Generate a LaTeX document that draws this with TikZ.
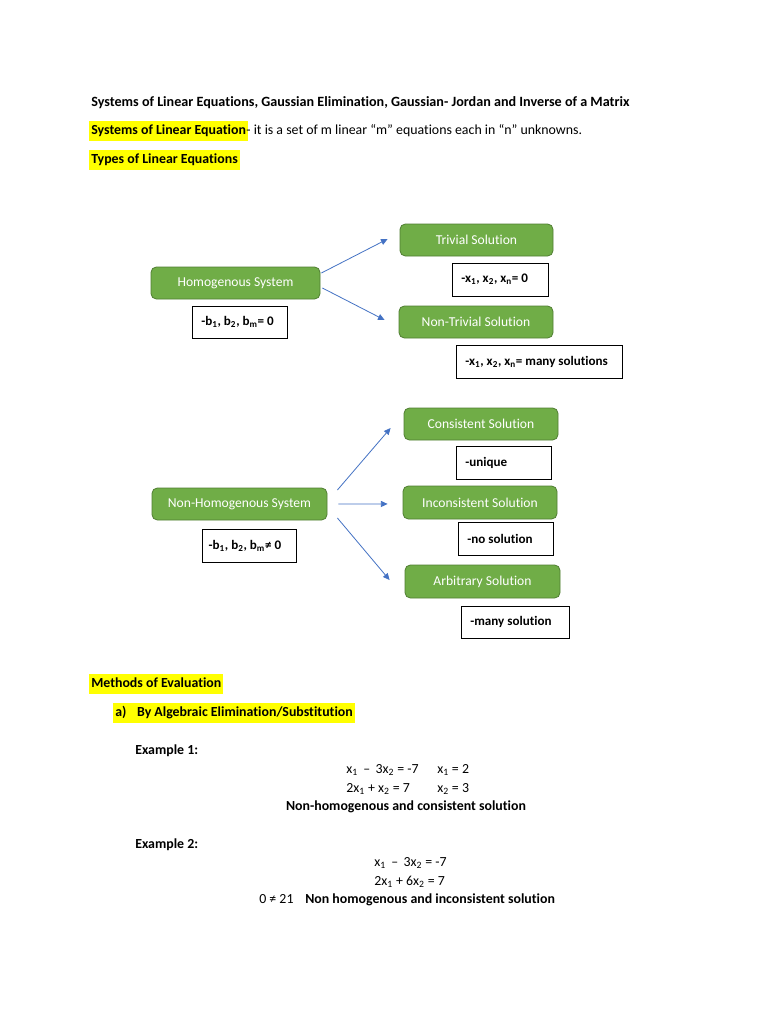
\documentclass[tikz,border=0pt]{standalone}
\usepackage{fontspec}
\setmainfont[Ligatures={NoCommon,NoContextual}]{Carlito}
\usetikzlibrary{arrows.meta}
\definecolor{gfill}{HTML}{70AD47}
\definecolor{gline}{HTML}{507E32}
\definecolor{ablue}{HTML}{4472C4}
\definecolor{hl}{HTML}{FFFF00}
\newcommand\sbs[1]{\textsubscript{#1}}
\newcommand\lbox[2]{\makebox[#1][l]{#2}}
\begin{document}
\begin{tikzpicture}[x=0.75pt,y=-0.75pt,
 txt/.style={inner sep=0pt, font=\fontsize{10.4}{12}\selectfont},
 btxt/.style={inner sep=0pt, font=\fontsize{10.4}{12}\selectfont\bfseries},
 hlt/.style={fill=hl, inner xsep=1.5pt, inner ysep=2.5pt, text height=7.3pt, text depth=2.5pt, font=\fontsize{10.4}{12}\selectfont\bfseries},
 gbox/.style={draw=gline, fill=gfill, rounded corners=4pt, line width=0.6pt, text=white, font=\fontsize{10.2}{12}\selectfont, inner sep=0pt},
 wbox/.style={draw=black, line width=0.6pt, fill=white, inner xsep=7pt, inner ysep=0pt, font=\fontsize{9.8}{11}\selectfont\bfseries},
 arr/.style={draw=ablue, line width=0.6pt, -{Triangle[length=5pt,width=4.5pt]}}
]
\useasboundingbox[fill=white] (0,0) rectangle (768,1024);

% header
\node[btxt, font=\fontsize{10.6}{12}\selectfont\bfseries, anchor=base west] (title) at (91,107) {Systems of Linear Equations, Gaussian Elimination, Gaussian- Jordan and Inverse of a Matrix};
\node[hlt, anchor=base west] (h1) at (89,134.5) {Systems of Linear Equation};
\node[txt, anchor=base west] (l2) at ([xshift=-1.5pt]h1.base east) {- it is a set of m linear “m” equations each in “n” unknowns.};
\node[hlt, anchor=base west] (h2) at (89,163) {Types of Linear Equations};

% homogenous
\node[gbox, minimum width=114.75pt, minimum height=24pt] (triv) at (476.5,240) {Trivial Solution};
\node[gbox, minimum width=126.75pt, minimum height=24pt] (homo) at (235.5,283) {Homogenous System};
\node[gbox, minimum width=115.5pt, minimum height=24pt] (ntriv) at (476,322) {Non-Trivial Solution};
\node[wbox, minimum height=24.75pt] (x1) at (500,279.5) {\lbox{58pt}{-x\sbs{1}, x\sbs{2}, x\sbs{n}= 0}};
\node[wbox, minimum height=24pt] (b1) at (239.5,322) {\lbox{57.25pt}{-b\sbs{1}, b\sbs{2}, b\sbs{m}= 0}};
\node[wbox, minimum height=24.75pt] (x2) at (539,361.5) {\lbox{110.5pt}{-x\sbs{1}, x\sbs{2}, x\sbs{n}= many solutions}};

\draw[arr] ([xshift=0.75pt,yshift=7.5pt]homo.east) -- ([xshift=-9pt,yshift=0.75pt]triv.west);
\draw[arr] ([xshift=1.5pt,yshift=-3.75pt]homo.east) -- ([xshift=-10.5pt,yshift=1.5pt]ntriv.west);

% non-homogenous
\node[gbox, minimum width=115.5pt, minimum height=24pt] (cons) at (481,424) {Consistent Solution};
\node[gbox, minimum width=131.25pt, minimum height=24pt] (nhomo) at (239.5,504) {Non-Homogenous System};
\node[gbox, minimum width=115.5pt, minimum height=24.75pt] (incons) at (480,502.5) {Inconsistent Solution};
\node[gbox, minimum width=116.25pt, minimum height=24.75pt] (arb) at (482.5,581.5) {Arbitrary Solution};
\node[wbox, minimum height=24.75pt] (uniq) at (503.5,462.5) {\lbox{57.25pt}{-unique}};
\node[wbox, minimum height=24.75pt] (nosol) at (505.5,538.5) {\lbox{57.25pt}{-no solution}};
\node[wbox, inner xsep=5pt, minimum height=24.75pt] (b2) at (249,545.5) {\lbox{60.5pt}{-b\sbs{1}, b\sbs{2}, b\sbs{m}≠ 0}};
\node[wbox, minimum height=24pt] (many) at (515,622) {\lbox{67pt}{-many solution}};

\draw[arr] ([xshift=7.5pt,yshift=10.5pt]nhomo.east) -- ([xshift=-9.75pt,yshift=-3pt]cons.west);
\draw[arr] ([xshift=8.25pt]nhomo.east) -- ([xshift=-11.25pt,yshift=-1.1pt]incons.west);
\draw[arr] ([xshift=7.5pt,yshift=-10.5pt]nhomo.east) -- ([xshift=-11.25pt,yshift=1.1pt]arb.west);

% methods
\node[hlt, anchor=base west] (h3) at (89,687) {Methods of Evaluation};
\node[hlt, anchor=base west] (h4) at (113,716) {a)\hspace{8pt}By Algebraic Elimination/Substitution};

\node[btxt, anchor=base west] (ex1) at (135,754) {Example 1:};
\node[txt, anchor=base west] (e11) at (346,773) {x\sbs{1} \,–\, 3x\sbs{2} = -7};
\node[txt, anchor=base west] (e12) at (437,773) {x\sbs{1} = 2};
\node[txt, anchor=base west] (e13) at (346,792) {2x\sbs{1} + x\sbs{2} = 7};
\node[txt, anchor=base west] (e14) at (437,792) {x\sbs{2} = 3};
\node[btxt, anchor=base] (r1) at (406,810) {Non-homogenous and consistent solution};

\node[btxt, anchor=base west] (ex2) at (135,848) {Example 2:};
\node[txt, anchor=base west] (e21) at (374,866) {x\sbs{1} \,–\, 3x\sbs{2} = -7};
\node[txt, anchor=base west] (e22) at (374,885) {2x\sbs{1} + 6x\sbs{2} = 7};
\node[txt, anchor=base west] (e23) at (259,903) {0 ≠ 21};
\node[btxt, anchor=base west] (r2) at (305,903) {Non homogenous and inconsistent solution};
\end{tikzpicture}
\end{document}
